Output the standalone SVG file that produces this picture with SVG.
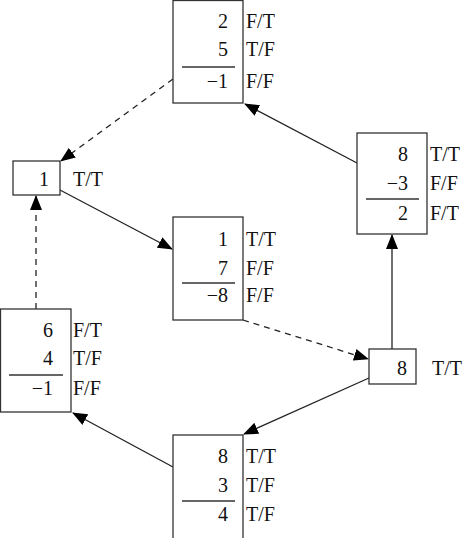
<svg xmlns="http://www.w3.org/2000/svg" width="474" height="538" viewBox="0 0 474 538">
<style>
.box{fill:#fff;stroke:#333;stroke-width:1.3}
.rule{stroke:#333;stroke-width:1.3}
.t{font-family:"Liberation Serif","Times New Roman",serif;font-size:20px;fill:#111}
.n{text-anchor:end}
.e{fill:none;stroke:#222;stroke-width:1.3}
.d{stroke-dasharray:6,5}
</style>
<defs>
<marker id="ah" markerWidth="15" markerHeight="12" refX="14" refY="6" orient="auto" markerUnits="userSpaceOnUse">
<path d="M0,0 L15,6 L0,12 Z" fill="#000"/>
</marker>
</defs>
<rect width="474" height="538" fill="#fff"/>
<g id="connectors">
<line class="e d" x1="173" y1="79" x2="61" y2="161" marker-end="url(#ah)"/>
<line class="e" x1="60" y1="190" x2="172" y2="249" marker-end="url(#ah)"/>
<line class="e d" x1="243" y1="320" x2="368" y2="359" marker-end="url(#ah)"/>
<line class="e" x1="392" y1="349" x2="392" y2="235" marker-end="url(#ah)"/>
<line class="e" x1="357" y1="163" x2="245" y2="104" marker-end="url(#ah)"/>
<line class="e" x1="369" y1="378" x2="244" y2="434" marker-end="url(#ah)"/>
<line class="e" x1="173" y1="467" x2="73" y2="413" marker-end="url(#ah)"/>
<line class="e d" x1="36" y1="309" x2="36" y2="196" marker-end="url(#ah)"/>
</g>
<g id="node-top">
<rect class="box" x="173" y="0.5" width="70" height="102.5"/>
<line class="rule" x1="182" y1="67" x2="235" y2="67"/>
<text class="t n" x="228" y="28">2</text>
<text class="t n" x="228" y="56">5</text>
<text class="t n" x="228" y="88">−1</text>
<text class="t" x="246" y="28">F/T</text>
<text class="t" x="246" y="56">T/F</text>
<text class="t" x="246" y="88">F/F</text>
</g>
<g id="node-1">
<rect class="box" x="13" y="161" width="47" height="34"/>
<text class="t n" x="49" y="186">1</text>
<text class="t" x="73" y="186">T/T</text>
</g>
<g id="node-mid">
<rect class="box" x="173" y="217" width="70" height="103"/>
<line class="rule" x1="182" y1="283" x2="235" y2="283"/>
<text class="t n" x="228" y="246">1</text>
<text class="t n" x="228" y="275">7</text>
<text class="t n" x="228" y="302">−8</text>
<text class="t" x="246" y="246">T/T</text>
<text class="t" x="246" y="275">F/F</text>
<text class="t" x="246" y="302">F/F</text>
</g>
<g id="node-right">
<rect class="box" x="357" y="133" width="70" height="101"/>
<line class="rule" x1="366" y1="199" x2="419" y2="199"/>
<text class="t n" x="408" y="161">8</text>
<text class="t n" x="408" y="190">−3</text>
<text class="t n" x="408" y="220">2</text>
<text class="t" x="430" y="161">T/T</text>
<text class="t" x="430" y="190">F/F</text>
<text class="t" x="430" y="220">F/T</text>
</g>
<g id="node-8">
<rect class="box" x="369" y="349" width="47" height="35"/>
<text class="t n" x="407" y="375">8</text>
<text class="t" x="432" y="375">T/T</text>
</g>
<g id="node-left">
<rect class="box" x="0.5" y="309" width="70.5" height="103"/>
<line class="rule" x1="9" y1="375" x2="63" y2="375"/>
<text class="t n" x="53" y="337">6</text>
<text class="t n" x="53" y="365">4</text>
<text class="t n" x="53" y="395">−1</text>
<text class="t" x="73" y="337">F/T</text>
<text class="t" x="73" y="365">T/F</text>
<text class="t" x="73" y="395">F/F</text>
</g>
<g id="node-bottom">
<rect class="box" x="173" y="435" width="70" height="110"/>
<line class="rule" x1="182" y1="501" x2="235" y2="501"/>
<text class="t n" x="228" y="463">8</text>
<text class="t n" x="228" y="492">3</text>
<text class="t n" x="228" y="521">4</text>
<text class="t" x="246" y="463">T/T</text>
<text class="t" x="246" y="492">T/F</text>
<text class="t" x="246" y="521">T/F</text>
</g>
</svg>
